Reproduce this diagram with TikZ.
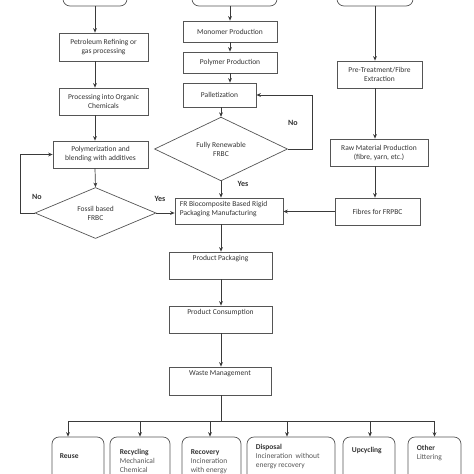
\documentclass[tikz,border=0pt]{standalone}
\usepackage{fontspec}
\setmainfont{Carlito}
\usetikzlibrary{shapes.geometric,arrows.meta}
\definecolor{ln}{HTML}{3A3A3A}
\definecolor{bd}{HTML}{555555}
\definecolor{tx}{HTML}{333333}
\definecolor{tx2}{HTML}{555555}
\tikzset{
  box/.style={draw=bd, line width=0.7pt, rectangle, inner sep=0pt, align=center, text=tx, font=\fontsize{7.5}{9}\selectfont},
  rbox/.style={draw=bd, line width=0.7pt, rectangle, rounded corners=7pt, inner sep=0pt},
  dia/.style={draw=bd, line width=0.7pt, diamond, inner sep=0pt, align=center, text=tx, font=\fontsize{7.5}{9}\selectfont},
  arr/.style={draw=ln, line width=0.7pt, -{Stealth[length=4.5pt,width=3.8pt]}},
  ln/.style={draw=ln, line width=0.7pt},
  yn/.style={font=\fontsize{8}{9}\selectfont\bfseries, text=tx, inner sep=0pt},
  toplbl/.style={anchor=north, inner sep=0pt, text=tx, font=\fontsize{7.5}{9}\selectfont},
  btxt/.style={anchor=north west, inner sep=0pt, align=left, text=tx2, font=\fontsize{7.5}{9}\selectfont},
}
\begin{document}
\begin{tikzpicture}[x=1pt,y=-1pt]
\useasboundingbox (0,0) rectangle (474,474);
\clip (0,0) rectangle (474,474);
% top rounded boxes
\node[rbox, minimum width=64pt, minimum height=30pt] (t1) at (95,-9) {};
\node[rbox, minimum width=85pt, minimum height=30pt] (t2) at (234.5,-9) {};
\node[rbox, minimum width=76pt, minimum height=30pt] (t3) at (375,-9) {};
% left column
\node[box, minimum width=89pt, minimum height=28pt] (pet) at (103.5,47) {Petroleum Refining or\\gas processing};
\node[box, minimum width=89pt, minimum height=27pt] (proc) at (103.5,101.5) {Processing into Organic\\Chemicals};
\node[box, minimum width=95pt, minimum height=27pt] (poly) at (100.5,154.5) {Polymerization and\\blending with additives};
\node[dia, minimum width=121pt, minimum height=51pt] (fos) at (95.5,213) {Fossil based\\FRBC};
% middle column
\node[box, minimum width=94pt, minimum height=21pt] (mono) at (230,31.5) {Monomer Production};
\node[box, minimum width=94pt, minimum height=21pt] (polp) at (230,62.5) {Polymer Production};
\node[box, minimum width=73pt, minimum height=24pt] (pal) at (219.5,95) {Palletization};
\node[dia, minimum width=133pt, minimum height=48pt] (ren) at (221,149) {Fully Renewable\\FRBC};
\node[box, minimum width=108pt, minimum height=26pt,
  label={[btxt, text=tx, xshift=5pt, yshift=-3.5pt]north west:FR Biocomposite Based Rigid\\Packaging Manufacturing}] (frb) at (229,211) {};
\node[box, minimum width=103pt, minimum height=27pt,
  label={[toplbl, yshift=-3.5pt]north:Product Packaging}] (pp) at (220.5,265.5) {};
\node[box, minimum width=103pt, minimum height=27pt,
  label={[toplbl, yshift=-3.5pt]north:Product Consumption}] (pc) at (220.5,319.5) {};
\node[box, minimum width=102pt, minimum height=28pt,
  label={[toplbl, yshift=-4pt]north:Waste Management}] (wm) at (220,381) {};
% right column
\node[box, minimum width=85pt, minimum height=27pt] (pre) at (379.5,74.5) {Pre-Treatment/Fibre\\Extraction};
\node[box, minimum width=98pt, minimum height=27pt] (raw) at (379,152.5) {Raw Material Production\\(fibre, yarn, etc.)};
\node[box, minimum width=85pt, minimum height=27pt] (fib) at (377.5,211.5) {Fibres for FRPBC};
% bottom boxes
\node[rbox, minimum width=52pt, minimum height=70pt,
  label={[btxt, xshift=8pt, yshift=-17pt]north west:\textbf{\color{tx}Reuse}}] (reu) at (78,472) {};
\node[rbox, minimum width=60pt, minimum height=70pt,
  label={[btxt, xshift=10pt, yshift=-12pt]north west:\textbf{\color{tx}Recycling}\\Mechanical\\Chemical}] (rec) at (140,472) {};
\node[rbox, minimum width=59pt, minimum height=70pt,
  label={[btxt, xshift=9pt, yshift=-13pt]north west:\textbf{\color{tx}Recovery}\\Incineration\\with energy}] (rcv) at (211.5,472) {};
\node[rbox, minimum width=88pt, minimum height=70pt,
  label={[btxt, xshift=9pt, yshift=-7pt]north west:\textbf{\color{tx}Disposal}\\Incineration\ \ without\\energy recovery}] (dis) at (291,472) {};
\node[rbox, minimum width=52pt, minimum height=70pt,
  label={[btxt, xshift=9pt, yshift=-10pt]north west:\textbf{\color{tx}Upcycling}}] (upc) at (369,472) {};
\node[rbox, minimum width=53pt, minimum height=70pt,
  label={[btxt, xshift=9pt, yshift=-8pt]north west:\textbf{\color{tx}Other}\\Littering}] (oth) at (434.5,472) {};
% arrows left column
\draw[arr] (t1.south) -- (t1.south |- pet.north);
\draw[arr] (t1.south |- pet.south) -- (t1.south |- proc.north);
\draw[arr] (t1.south |- proc.south) -- (t1.south |- poly.north);
\draw[arr] (t1.south |- poly.south) -- (fos.north);
\draw[arr] (fos.west) -- ++(-14,0) |- (poly.west);
\draw[arr] (fos.east) -- (fos.east -| frb.west);
% arrows middle column
\draw[arr] (mono.north |- t2.south) -- (mono.north);
\draw[arr] (mono.south) -- (polp.north);
\draw[arr] (polp.south) -- (polp.south |- pal.north);
\draw[arr] (ren.north |- pal.south) -- (ren.north);
\draw[arr] (ren.east) -- ++(24,0) |- (pal.east);
\draw[arr] (ren.south) -- (ren.south |- frb.north);
\draw[arr] (ren.south |- frb.south) -- (ren.south |- pp.north);
\draw[arr] (ren.south |- pp.south) -- (ren.south |- pc.north);
\draw[arr] (ren.south |- pc.south) -- (ren.south |- wm.north);
% arrows right column
\draw[arr] (t3.south) -- (t3.south |- pre.north);
\draw[arr] (t3.south |- pre.south) -- (t3.south |- raw.north);
\draw[arr] (t3.south |- raw.south) -- (t3.south |- fib.north);
\draw[arr] (fib.west) -- (fib.west -| frb.east);
% labels
\node[yn] (no1) at (37,197) {No};
\node[yn] (yes1) at (160,199) {Yes};
\node[yn] (yes2) at (243,184) {Yes};
\node[yn] (no2) at (293,123) {No};
% bottom distribution
\coordinate (bus) at (221,421);
\draw[ln] (ren.south |- wm.south) -- (bus);
\draw[arr] (bus) -| ([xshift=-10pt]reu.north);
\draw[arr] (bus) -| (rec.north);
\draw[arr] (bus) -| ([xshift=-1.5pt]rcv.north);
\draw[arr] (bus) -| ([xshift=-4pt]dis.north);
\draw[arr] (bus) -| ([xshift=1pt]upc.north);
\draw[arr] (bus) -| (oth.north);
\end{tikzpicture}
\end{document}
